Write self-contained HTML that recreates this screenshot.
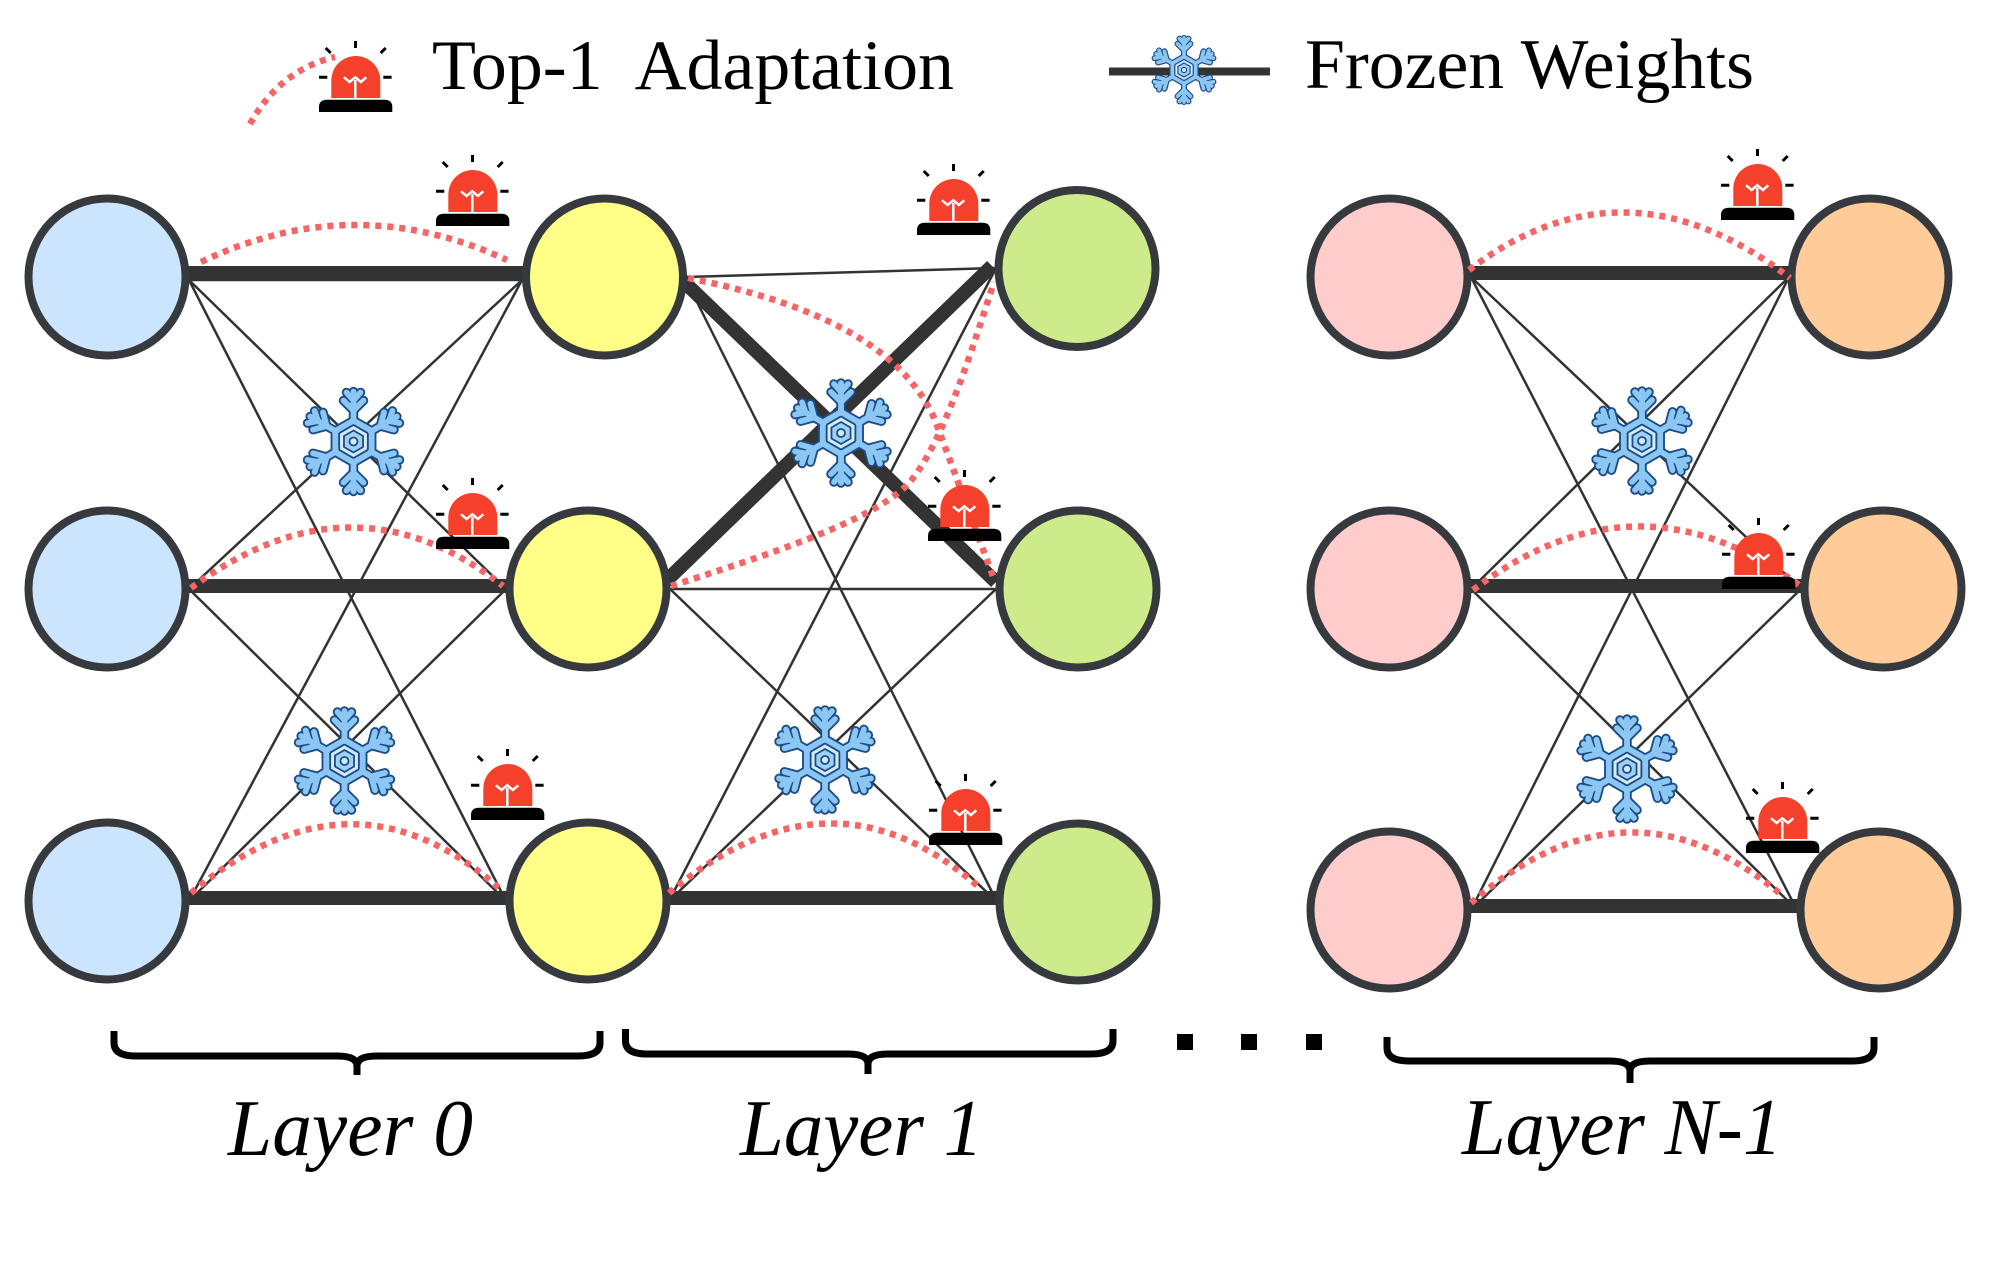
<!DOCTYPE html>
<html><head><meta charset="utf-8"><style>html,body{margin:0;padding:0;background:#fff}svg{display:block}.serif{font-family:"Liberation Serif","Times New Roman",serif}</style></head>
<body>
<svg width="2016" height="1273" viewBox="0 0 2016 1273" xmlns="http://www.w3.org/2000/svg" xmlns:xlink="http://www.w3.org/1999/xlink">
<defs>
<g id="arm"><path d="M0,-20 V-50 M0,-31 L-10,-41 M0,-31 L10,-41 M0,-41 L-7,-49 M0,-41 L7,-49"/></g>
<g id="sf">
 <g fill="none" stroke="#1c4c87" stroke-width="9.5" stroke-linecap="round" stroke-linejoin="round">
  <use xlink:href="#arm"/><use xlink:href="#arm" transform="rotate(60)"/><use xlink:href="#arm" transform="rotate(120)"/>
  <use xlink:href="#arm" transform="rotate(180)"/><use xlink:href="#arm" transform="rotate(240)"/><use xlink:href="#arm" transform="rotate(300)"/>
  <polygon points="0,-21 18.19,-10.5 18.19,10.5 0,21 -18.19,10.5 -18.19,-10.5" fill="#d4ebfc"/>
 </g>
 <g fill="none" stroke="#8cc6f3" stroke-width="5.8" stroke-linecap="round" stroke-linejoin="round">
  <use xlink:href="#arm"/><use xlink:href="#arm" transform="rotate(60)"/><use xlink:href="#arm" transform="rotate(120)"/>
  <use xlink:href="#arm" transform="rotate(180)"/><use xlink:href="#arm" transform="rotate(240)"/><use xlink:href="#arm" transform="rotate(300)"/>
  <polygon points="0,-21 18.19,-10.5 18.19,10.5 0,21 -18.19,10.5 -18.19,-10.5"/>
 </g>
 <polygon points="0,-11 9.53,-5.5 9.53,5.5 0,11 -9.53,5.5 -9.53,-5.5" fill="#9fd0f5" stroke="#1c4c87" stroke-width="1.8"/>
 <circle r="4" fill="#d4ebfc" stroke="#1c4c87" stroke-width="1.8"/>
</g>
<g id="al">
 <path d="M36.5,0 V7 M6.7,7 L11.7,12 M66.7,7 L61.7,12 M0,36.3 H8.3 M64.3,36.3 H72.6" stroke="#000" stroke-width="3" fill="none"/>
 <path d="M12.3,57 V39.5 A24.5,24.5 0 0 1 61.3,39.5 V57 Z" fill="#f5412b"/>
 <path d="M25,36.3 L30.6,41 L36.3,36.3 L41.9,41 L47.3,36.3" fill="none" stroke="#fff" stroke-width="2.5"/>
 <path d="M36.3,39 V57" stroke="#fff" stroke-width="2.5"/>
 <path d="M0,71 V66 Q0,58.7 8,58.7 H65.3 Q73.3,58.7 73.3,66 V71 Z" fill="#000"/>
</g>
</defs>

<!-- Legend -->
<path d="M250,124 Q280,70 335,57" fill="none" stroke="#f56565" stroke-width="6.5" stroke-dasharray="6 6"/>
<use xlink:href="#al" x="319" y="41"/>
<text class="serif" x="432" y="89" font-size="71" fill="#000" textLength="522" lengthAdjust="spacingAndGlyphs" xml:space="preserve">Top-1  Adaptation</text>
<line x1="1109" y1="71.5" x2="1270" y2="71.5" stroke="#333" stroke-width="8"/>
<use xlink:href="#sf" transform="translate(1184,70) scale(0.64)"/>
<text class="serif" x="1305" y="88" font-size="71" fill="#000" textLength="449" lengthAdjust="spacingAndGlyphs">Frozen Weights</text>

<!-- Thin lines -->
<g stroke="#333" stroke-width="2.5" fill="none">
 <line x1="189" y1="280" x2="522" y2="280"/>
 <line x1="189" y1="280" x2="506" y2="589"/>
 <line x1="189" y1="280" x2="506" y2="901"/>
 <line x1="189" y1="589" x2="522" y2="280"/>
 <line x1="189" y1="589" x2="506" y2="901"/>
 <line x1="189" y1="901" x2="522" y2="280"/>
 <line x1="189" y1="901" x2="506" y2="589"/>
 <line x1="686" y1="277" x2="996" y2="268"/>
 <line x1="686" y1="280" x2="997" y2="902"/>
 <line x1="670" y1="589" x2="996" y2="589"/>
 <line x1="670" y1="589" x2="997" y2="902"/>
 <line x1="669" y1="901" x2="996" y2="268"/>
 <line x1="669" y1="901" x2="996" y2="589"/>
 <line x1="1471" y1="277" x2="1801" y2="589"/>
 <line x1="1471" y1="277" x2="1797" y2="910"/>
 <line x1="1471" y1="589" x2="1789" y2="277"/>
 <line x1="1471" y1="589" x2="1797" y2="910"/>
 <line x1="1471" y1="910" x2="1789" y2="277"/>
 <line x1="1471" y1="910" x2="1801" y2="589"/>
</g>
<!-- Thick lines -->
<g stroke="#333" stroke-width="14" fill="none">
 <line x1="187" y1="273" x2="524" y2="273"/>
 <line x1="187" y1="586" x2="508" y2="586"/>
 <line x1="187" y1="898" x2="508" y2="898"/>
 <line x1="680" y1="278" x2="996" y2="582"/>
 <line x1="665" y1="582" x2="992" y2="266"/>
 <line x1="668" y1="898" x2="998" y2="898"/>
 <line x1="1469" y1="273" x2="1790" y2="273"/>
 <line x1="1469" y1="586" x2="1803" y2="586"/>
 <line x1="1469" y1="906" x2="1799" y2="906"/>
</g>

<!-- Nodes -->
<g stroke="#36393d" stroke-width="8">
 <circle cx="107" cy="277" r="78.5" fill="#cce5ff"/>
 <circle cx="107" cy="589" r="78.5" fill="#cce5ff"/>
 <circle cx="107" cy="901" r="78.5" fill="#cce5ff"/>
 <circle cx="604.5" cy="277" r="78.5" fill="#ffff88"/>
 <circle cx="588" cy="589" r="78.5" fill="#ffff88"/>
 <circle cx="588" cy="901" r="78.5" fill="#ffff88"/>
 <circle cx="1077" cy="268.5" r="78.5" fill="#cdeb8b"/>
 <circle cx="1078" cy="589" r="78.5" fill="#cdeb8b"/>
 <circle cx="1078" cy="902" r="78.5" fill="#cdeb8b"/>
 <circle cx="1389" cy="277" r="78.5" fill="#ffcccc"/>
 <circle cx="1389" cy="589" r="78.5" fill="#ffcccc"/>
 <circle cx="1389" cy="910" r="78.5" fill="#ffcccc"/>
 <circle cx="1870" cy="277" r="78.5" fill="#ffcc99"/>
 <circle cx="1883" cy="589" r="78.5" fill="#ffcc99"/>
 <circle cx="1879" cy="910" r="78.5" fill="#ffcc99"/>
</g>

<!-- Snowflakes -->
<use xlink:href="#sf" transform="translate(353.5,441.5)"/>
<use xlink:href="#sf" transform="translate(344.5,761)"/>
<use xlink:href="#sf" transform="translate(841,433)"/>
<use xlink:href="#sf" transform="translate(825,760)"/>
<use xlink:href="#sf" transform="translate(1642,441)"/>
<use xlink:href="#sf" transform="translate(1627,769)"/>

<!-- Red dotted adaptation curves -->
<g fill="none" stroke="#f56565" stroke-width="6.5" stroke-dasharray="6 6">
 <path d="M201,262 Q353,189 507,260"/>
 <path d="M191,588 Q353,468 503,586"/>
 <path d="M191,893 Q353,757 501,890"/>
 <path d="M688,278 C800,300 900,340 935,420 L994,579"/>
 <path d="M671,586 C800,545 880,515 910,482 C945,440 975,340 994,282"/>
 <path d="M669,893 Q832,756 981,889"/>
 <path d="M1469,270 Q1625,151 1790,278"/>
 <path d="M1473,590 Q1638,464 1803,588"/>
 <path d="M1471,903 Q1629,765 1784,897"/>
</g>

<!-- Alarms -->
<use xlink:href="#al" x="436" y="155"/>
<use xlink:href="#al" x="436" y="478"/>
<use xlink:href="#al" x="471" y="749"/>
<use xlink:href="#al" x="917" y="164"/>
<use xlink:href="#al" x="928" y="470"/>
<use xlink:href="#al" x="929" y="774"/>
<use xlink:href="#al" x="1721" y="149"/>
<use xlink:href="#al" x="1722" y="518"/>
<use xlink:href="#al" x="1746" y="782"/>

<!-- Braces -->
<g fill="none" stroke="#000" stroke-width="7" stroke-linejoin="round">
 <path d="M114,1031 V1043 Q114,1056 136,1056 H337 Q357,1056 357,1066 V1075 M357,1066 Q357,1056 377,1056 H578 Q600,1056 600,1043 V1031"/>
 <path d="M625.5,1029 V1041 Q625.5,1054 647,1054 H848 Q868,1054 868,1064 V1074 M868,1064 Q868,1054 888,1054 H1091 Q1113,1054 1113,1041 V1029"/>
 <path d="M1387,1037 V1048 Q1387,1061 1409,1061 H1610 Q1630,1061 1630,1071 V1083 M1630,1071 Q1630,1061 1650,1061 H1852 Q1874,1061 1874,1048 V1037"/>
</g>
<rect x="1177" y="1034" width="16" height="16" fill="#000"/>
<rect x="1241" y="1034" width="16" height="16" fill="#000"/>
<rect x="1306" y="1034" width="16" height="16" fill="#000"/>

<!-- Layer labels -->
<g class="serif" font-style="italic" font-size="80" fill="#000">
 <text x="228" y="1155" textLength="245" lengthAdjust="spacingAndGlyphs">Layer 0</text>
 <text x="740" y="1155" textLength="243" lengthAdjust="spacingAndGlyphs">Layer 1</text>
 <text x="1462" y="1154" textLength="320" lengthAdjust="spacingAndGlyphs">Layer N-1</text>
</g>
</svg>
</body></html>
